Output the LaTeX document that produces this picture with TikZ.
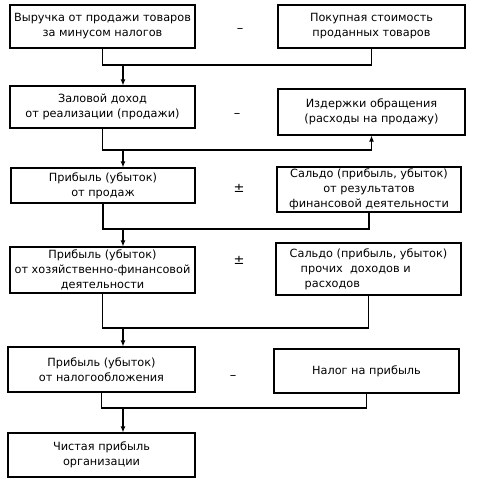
\documentclass[tikz,border=0pt]{standalone}
\usepackage{fontspec}
\setmainfont{DejaVu Sans}
\usetikzlibrary{arrows.meta}
\begin{document}
\begin{tikzpicture}[x=1pt,y=-1pt,
  box/.style={draw, line width=1.1pt, rectangle, inner sep=1pt, align=center, font=\fontsize{11.3}{15}\selectfont},
  op/.style={font=\fontsize{13}{13}\selectfont, inner sep=0pt},
  con/.style={line width=1.1pt},
  arr/.style={line width=1.1pt, -{Latex[length=6pt,width=5pt]}}]
\useasboundingbox (0,0) rectangle (479,491);
% left column
\node[box, minimum width=185, minimum height=43] (a1) at (102.5,26.5) {Выручка от продажи товаров\\за минусом налогов};
\node[box, minimum width=185, minimum height=42] (a2) at (102.5,107) {Заловой доход\\от реализации (продажи)};
\node[box, minimum width=184, minimum height=35] (a3) at (103,185.5) {Прибыль (убыток)\\от продаж};
\node[box, minimum width=185, minimum height=46] (a4) at (102.5,270) {Прибыль (убыток)\\от хозяйственно-финансовой\\деятельности};
\node[box, minimum width=187, minimum height=45] (a5) at (101.5,369.5) {Прибыль (убыток)\\от налогообложения};
\node[box, minimum width=187, minimum height=44] (a6) at (101.5,455) {Чистая прибыль\\организации};
% right column
\node[box, minimum width=187, minimum height=43] (b1) at (371.5,26.5) {Покупная стоимость\\проданных товаров};
\node[box, minimum width=187, minimum height=46] (b2) at (371.5,112) {Издержки обращения\\(расходы на продажу)};
\node[box, minimum width=184, minimum height=45] (b3) at (369,189.5) {Сальдо (прибыль, убыток)\\от результатов\\финансовой деятельности};
\node[box, minimum width=185, minimum height=52, align=left] (b4) at (368.5,269) {Сальдо (прибыль, убыток)\\\hspace{11pt}прочих\ \ доходов и\\\hspace{15pt}расходов};
\node[box, minimum width=185, minimum height=44] (b5) at (366.5,371) {Налог на прибыль};
% operators
\node[op] (o1) at (240,30) {–};
\node[op] (o2) at (237,115) {–};
\node[op] (o3) at (239,188) {±};
\node[op] (o4) at (239,260) {±};
\node[op] (o5) at (233,377) {–};
% junctions
\coordinate (j1) at (123,65);
\coordinate (j2) at (123,150);
\coordinate (j3) at (123,229);
\coordinate (j4) at (123,328);
\coordinate (j5) at (123,408);
% connectors
\draw[con] (a1.south) |- (j1) -| (b1.south);
\draw[arr] (j1) -- (j1 |- a2.north);
\draw[arr] (a2.south) |- (j2) -| (b2.south);
\draw[arr] (j2) -- (j2 |- a3.north);
\draw[con] (a3.south) |- (j3) -| (b3.south);
\draw[arr] (j3) -- (j3 |- a4.north);
\draw[con] (a4.south) |- (j4) -| (b4.south);
\draw[arr] (j4) -- (j4 |- a5.north);
\draw[con] (a5.south) |- (j5) -| (b5.south);
\draw[arr] (j5) -- (j5 |- a6.north);
\end{tikzpicture}
\end{document}
